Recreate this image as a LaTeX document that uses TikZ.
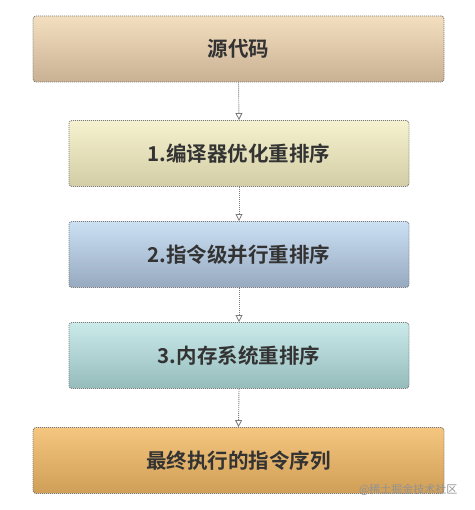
\documentclass[tikz,border=0pt]{standalone}
\usepackage{fontspec}
\newfontfamily\cjk{Noto Sans CJK SC}[BoldFont={Noto Sans CJK SC Bold}]
\usetikzlibrary{arrows.meta,shadings}
\definecolor{aT}{HTML}{F3DFBF}\definecolor{aB}{HTML}{C9B193}
\definecolor{bT}{HTML}{F6F2CF}\definecolor{bB}{HTML}{D2CDA5}
\definecolor{cT}{HTML}{CCE0F4}\definecolor{cB}{HTML}{96A9BF}
\definecolor{dT}{HTML}{CBEAEA}\definecolor{dB}{HTML}{95BBBB}
\definecolor{eT}{HTML}{F5C67F}\definecolor{eB}{HTML}{CF9E57}
\definecolor{txt}{HTML}{333333}
\definecolor{edge}{HTML}{7A7A7A}
\tikzset{
  dots/.style={dash pattern=on 1pt off 1pt},
  stepbox/.style={draw=edge, dots, line width=0.9pt, rounded corners=3pt,
    minimum height=66pt, font=\cjk\bfseries\fontsize{20.5}{24}\selectfont,
    text=txt, inner sep=0pt},
  wide/.style={stepbox, minimum width=411pt},
  narrow/.style={stepbox, minimum width=340pt},
  flow/.style={draw=edge, dots, line width=0.9pt,
    -{Triangle[open, length=7pt, width=7pt, line width=0.8pt, sep=0pt]}},
}
\begin{document}
\begin{tikzpicture}[x=1pt,y=1pt]
\useasboundingbox[fill=white] (0,0) rectangle (474,510);
\node[wide, top color=aT, bottom color=aB] (src) at (238.5,461) {源代码};
\node[narrow, top color=bT, bottom color=bB] (c1) at (239,356.5) {1.编译器优化重排序};
\node[narrow, top color=cT, bottom color=cB] (c2) at (239,255.5) {2.指令级并行重排序};
\node[narrow, top color=dT, bottom color=dB] (c3) at (239,154.5) {3.内存系统重排序};
\node[wide, top color=eT, bottom color=eB] (fin) at (238.5,49.5) {最终执行的指令序列};
\draw[flow] (src.south) -- (c1.north);
\draw[flow] (c1.south) -- (c2.north);
\draw[flow] (c2.south) -- (c3.north);
\draw[flow] (c3.south) -- (fin.north);
\node[font=\cjk\fontsize{11}{13}\selectfont, text=gray!85, anchor=east] (wm) at (461,20) {@稀土掘金技术社区};
\end{tikzpicture}
\end{document}
